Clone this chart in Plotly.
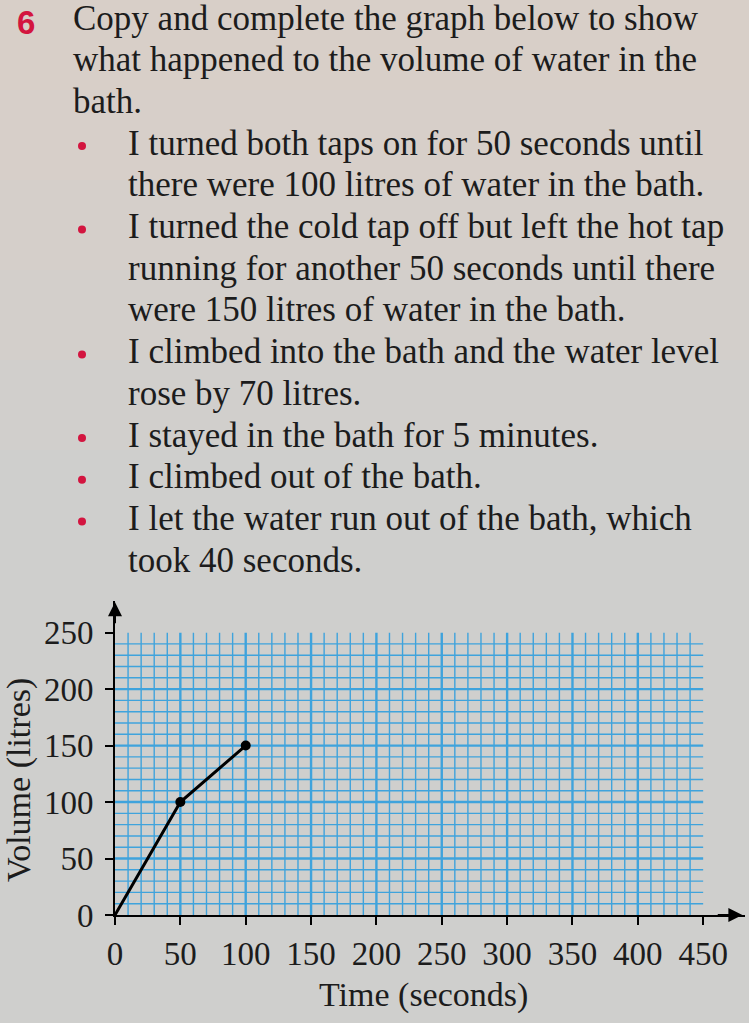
import plotly.graph_objects as go

# data
time_s = [0, 50, 100]
volume_l = [0, 100, 150]
x_ticks = [0, 50, 100, 150, 200, 250, 300, 350, 400, 450]
y_ticks = [0, 50, 100, 150, 200, 250]

question_number = '6'
question_lines = [
    'Copy and complete the graph below to show',
    'what happened to the volume of water in the',
    'bath.',
]
bullet_items = [
    ['I turned both taps on for 50 seconds until',
     'there were 100 litres of water in the bath.'],
    ['I turned the cold tap off but left the hot tap',
     'running for another 50 seconds until there',
     'were 150 litres of water in the bath.'],
    ['I climbed into the bath and the water level',
     'rose by 70 litres.'],
    ['I stayed in the bath for 5 minutes.'],
    ['I climbed out of the bath.'],
    ['I let the water run out of the bath, which',
     'took 40 seconds.'],
]

W, H = 749, 1023
L, R, T, B = 115, 4, 601, 108
PW, PH = W - L - R, H - T - B
X_MAX, Y_MAX = 482, 278

PAGE = '#cfcfcd'
GRID = '#3fa3dc'
RED = '#d3153f'
INK = '#1c1c1c'
SERIF = 'Liberation Serif, Times New Roman, serif'


def xp(px):
    return (px - L) / PW


def yp(py):
    return (H - B - py) / PH


fig = go.Figure()

shapes = []
# warmer, lighter tint towards the top of the page
for band_bottom in [90, 180, 270, 360, 450]:
    shapes.append(dict(type='rect', xref='paper', yref='paper',
                       x0=xp(0), x1=xp(W), y0=yp(band_bottom), y1=yp(0),
                       fillcolor='rgba(228,212,200,0.12)', line=dict(width=0),
                       layer='below'))

# graph paper
for gx in range(10, 450, 10):
    shapes.append(dict(type='line', xref='x', yref='y', x0=gx, x1=gx, y0=0, y1=250,
                       line=dict(color=GRID, width=2.4 if gx % 50 == 0 else 1.4),
                       layer='below'))
for gy in range(10, 250, 10):
    shapes.append(dict(type='line', xref='x', yref='y', x0=0, x1=450, y0=gy, y1=gy,
                       line=dict(color=GRID, width=2.4 if gy % 50 == 0 else 1.4),
                       layer='below'))

fig.add_scatter(x=time_s, y=volume_l, mode='lines',
                line=dict(color='black', width=3), hoverinfo='skip')
fig.add_scatter(x=time_s[1:], y=volume_l[1:], mode='markers',
                marker=dict(color='black', size=10), hoverinfo='skip')

annotations = []

# axis arrows
annotations.append(dict(x=X_MAX - 2, y=0, ax=X_MAX - 22, ay=0, xref='x', yref='y',
                        axref='x', ayref='y', text='', showarrow=True,
                        arrowhead=2, arrowsize=1.4, arrowwidth=2, arrowcolor='black'))
annotations.append(dict(x=0, y=Y_MAX - 1, ax=0, ay=Y_MAX - 21, xref='x', yref='y',
                        axref='x', ayref='y', text='', showarrow=True,
                        arrowhead=2, arrowsize=1.4, arrowwidth=2, arrowcolor='black'))

# axis titles
annotations.append(dict(x=xp(423), y=yp(995), xref='paper', yref='paper',
                        xanchor='center', yanchor='middle',
                        text='Time (seconds)', showarrow=False,
                        font=dict(family=SERIF, size=34, color=INK)))
annotations.append(dict(x=xp(19), y=yp(780), xref='paper', yref='paper',
                        xanchor='center', yanchor='middle',
                        text='Volume (litres)', showarrow=False, textangle=-90,
                        font=dict(family=SERIF, size=34, color=INK)))

# question text
annotations.append(dict(x=xp(26), y=yp(22), xref='paper', yref='paper',
                        xanchor='center', yanchor='middle', showarrow=False,
                        text='<b>' + question_number + '</b>',
                        font=dict(family='Liberation Sans, Arial, sans-serif',
                                  size=33, color=RED)))

line_gap = 41.7
row = 0
for line in question_lines:
    annotations.append(dict(x=xp(71), y=yp(18 + row * line_gap), xref='paper', yref='paper',
                            xanchor='left', yanchor='middle', showarrow=False, text=line,
                            font=dict(family=SERIF, size=35, color=INK)))
    row += 1

for item in bullet_items:
    # red bullet dot
    cy = 18 + row * line_gap + 3
    shapes.append(dict(type='circle', xref='paper', yref='paper',
                       x0=xp(78), x1=xp(86), y0=yp(cy + 4), y1=yp(cy - 4),
                       fillcolor=RED, line=dict(width=0), layer='above'))
    for line in item:
        annotations.append(dict(x=xp(126), y=yp(18 + row * line_gap), xref='paper', yref='paper',
                                xanchor='left', yanchor='middle', showarrow=False, text=line,
                                font=dict(family=SERIF, size=35, color=INK)))
        row += 1

fig.update_layout(
    width=W, height=H, autosize=False,
    margin=dict(l=L, r=R, t=T, b=B),
    paper_bgcolor=PAGE, plot_bgcolor='rgba(0,0,0,0)',
    showlegend=False,
    shapes=shapes,
    annotations=annotations,
    font=dict(family=SERIF, size=33, color=INK),
)
fig.update_xaxes(range=[0, X_MAX], tickvals=x_ticks, showgrid=False, zeroline=False,
                 showline=True, linecolor='black', linewidth=2,
                 ticks='outside', ticklen=8, tickwidth=2, tickcolor='black',
                 ticklabelstandoff=0,
                 tickfont=dict(family=SERIF, size=33, color=INK))
fig.update_yaxes(range=[0, Y_MAX], tickvals=y_ticks, showgrid=False, zeroline=False,
                 showline=True, linecolor='black', linewidth=2,
                 ticks='outside', ticklen=8, tickwidth=2, tickcolor='black',
                 ticklabelstandoff=5,
                 tickfont=dict(family=SERIF, size=33, color=INK))

fig.write_html('out.html', config={'displayModeBar': False},
               post_script="document.body.style.margin = '0';")
